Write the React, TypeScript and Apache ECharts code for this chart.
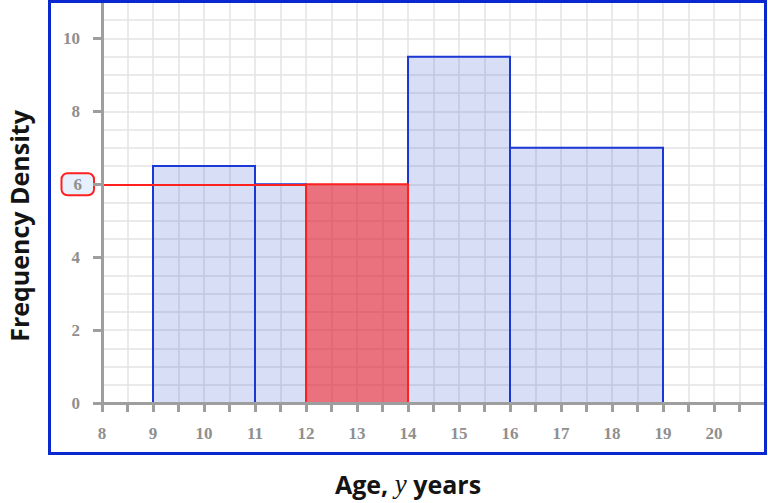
import React, { useEffect, useRef } from 'react';
import * as echarts from 'echarts';

const binStarts = [9, 11, 12, 14, 16];
const binEnds = [11, 12, 14, 16, 19];
const densities = [6.5, 6, 6, 9.5, 7];
const highlightIndex = 2;
const highlightValue = 6;
const xTickLabels = [8, 9, 10, 11, 12, 13, 14, 15, 16, 17, 18, 19, 20];
const yTickLabels = [0, 2, 4, 6, 8, 10];
const xTitle = 'Age, ';
const xTitleVar = 'y';
const xTitleEnd = ' years';
const yTitle = 'Frequency Density';

const tickFont = {
  color: '#8f8f8f',
  fontFamily: '"Liberation Serif", "Times New Roman", serif',
  fontWeight: 'bold' as const,
  fontSize: 17,
};

export default function App() {
  const ref = useRef<HTMLDivElement>(null);
  useEffect(() => {
    if (!ref.current) return;
    const chart = echarts.init(ref.current, null, { renderer: 'svg' });
    const blueData = binStarts
      .map((s, i) => [s, binEnds[i], densities[i]])
      .filter((_, i) => i !== highlightIndex);
    const redData = [[binStarts[highlightIndex], binEnds[highlightIndex], densities[highlightIndex]]];
    const xTickValues: number[] = [];
    xTickLabels.forEach((v) => { xTickValues.push(v, v + 0.5); });

    const makeRender = (fill: string, stroke: string) => (params: any, api: any) => {
      const x0 = api.value(0), x1 = api.value(1), h = api.value(2);
      const p0 = api.coord([x0, 0]);
      const p1 = api.coord([x1, h]);
      return {
        type: 'rect',
        shape: { x: p0[0], y: p1[1], width: p1[0] - p0[0], height: p0[1] - p1[1] },
        style: { fill, stroke, lineWidth: 2 },
      };
    };

    const gridLine = { show: true, lineStyle: { color: '#e3e3e3', width: 1.5 } };
    const axisLine = { show: true, lineStyle: { color: '#9e9e9e', width: 3 } };
    const titleFont = { fontFamily: '"Open Sans", sans-serif', fontWeight: 700, fontSize: 25, fill: '#141414' };

    chart.setOption({
      animation: false,
      grid: { left: 102, right: 3, top: 2, bottom: 100, containLabel: false },
      xAxis: [
        {
          type: 'value', min: 8, max: 21, interval: 0.5,
          axisLine: { show: false }, axisTick: { show: false }, axisLabel: { show: false },
          splitLine: gridLine,
        },
        {
          type: 'value', min: 8, max: 21, interval: 0.5, position: 'bottom', z: 10,
          axisLine: { ...axisLine, onZero: false },
          axisTick: { show: true, customValues: xTickValues, length: 9, lineStyle: { color: '#9e9e9e', width: 3 } },
          axisLabel: { ...tickFont, customValues: xTickLabels, margin: 22 },
          splitLine: { show: false },
        },
      ],
      yAxis: [
        {
          type: 'value', min: 0, max: 11, interval: 0.5,
          axisLine: { show: false }, axisTick: { show: false }, axisLabel: { show: false },
          splitLine: gridLine,
        },
        {
          type: 'value', min: 0, max: 11, interval: 0.5, position: 'left', z: 10,
          axisLine: { ...axisLine, onZero: false },
          axisTick: { show: true, customValues: yTickLabels, length: 9, lineStyle: { color: '#9e9e9e', width: 3 } },
          axisLabel: { ...tickFont, customValues: yTickLabels.filter((v) => v !== highlightValue), margin: 22 },
          splitLine: { show: false },
        },
      ],
      series: [
        {
          type: 'custom',
          xAxisIndex: 0, yAxisIndex: 0,
          renderItem: makeRender('rgba(63,90,216,0.2)', '#1a38d4'),
          encode: { x: [0, 1], y: 2 },
          data: blueData,
          z: 2,
        },
        {
          type: 'custom',
          xAxisIndex: 0, yAxisIndex: 0,
          renderItem: makeRender('rgba(220,20,40,0.6)', '#ff2020'),
          encode: { x: [0, 1], y: 2 },
          data: redData,
          z: 3,
          markLine: {
            silent: true,
            symbol: ['none', 'none'],
            lineStyle: { color: '#ff2020', width: 2, type: 'solid' },
            label: {
              show: true,
              position: 'start',
              distance: 9,
              formatter: String(highlightValue),
              ...tickFont,
              backgroundColor: '#e7f0fd',
              borderColor: '#ff2020',
              borderWidth: 2,
              borderRadius: 5,
              padding: [2, 11, 1, 11],
            },
            data: [[{ coord: [xTickLabels[0], highlightValue] }, { coord: [binStarts[highlightIndex], highlightValue] }]],
          },
        },
      ],
      graphic: [
        {
          type: 'rect', z: 100,
          shape: { x: 49.5, y: 1.5, width: 716, height: 452 },
          style: { fill: 'none', stroke: '#0a28d0', lineWidth: 3 },
        },
        {
          type: 'text', x: 19, y: 226, rotation: Math.PI / 2,
          style: { text: yTitle, align: 'center', verticalAlign: 'middle', ...titleFont },
        },
        {
          type: 'text', x: 408, y: 484,
          style: {
            text: `{a|${xTitle}}{i|${xTitleVar}}{a|${xTitleEnd}}`,
            align: 'center', verticalAlign: 'middle',
            rich: {
              a: titleFont,
              i: { fontFamily: '"Liberation Serif", serif', fontStyle: 'italic', fontSize: 27, fill: '#141414' },
            },
          },
        },
      ],
    });
    return () => chart.dispose();
  }, []);
  return <div ref={ref} style={{ position: 'absolute', left: 0, top: 0, width: 768, height: 503 }} />;
}
